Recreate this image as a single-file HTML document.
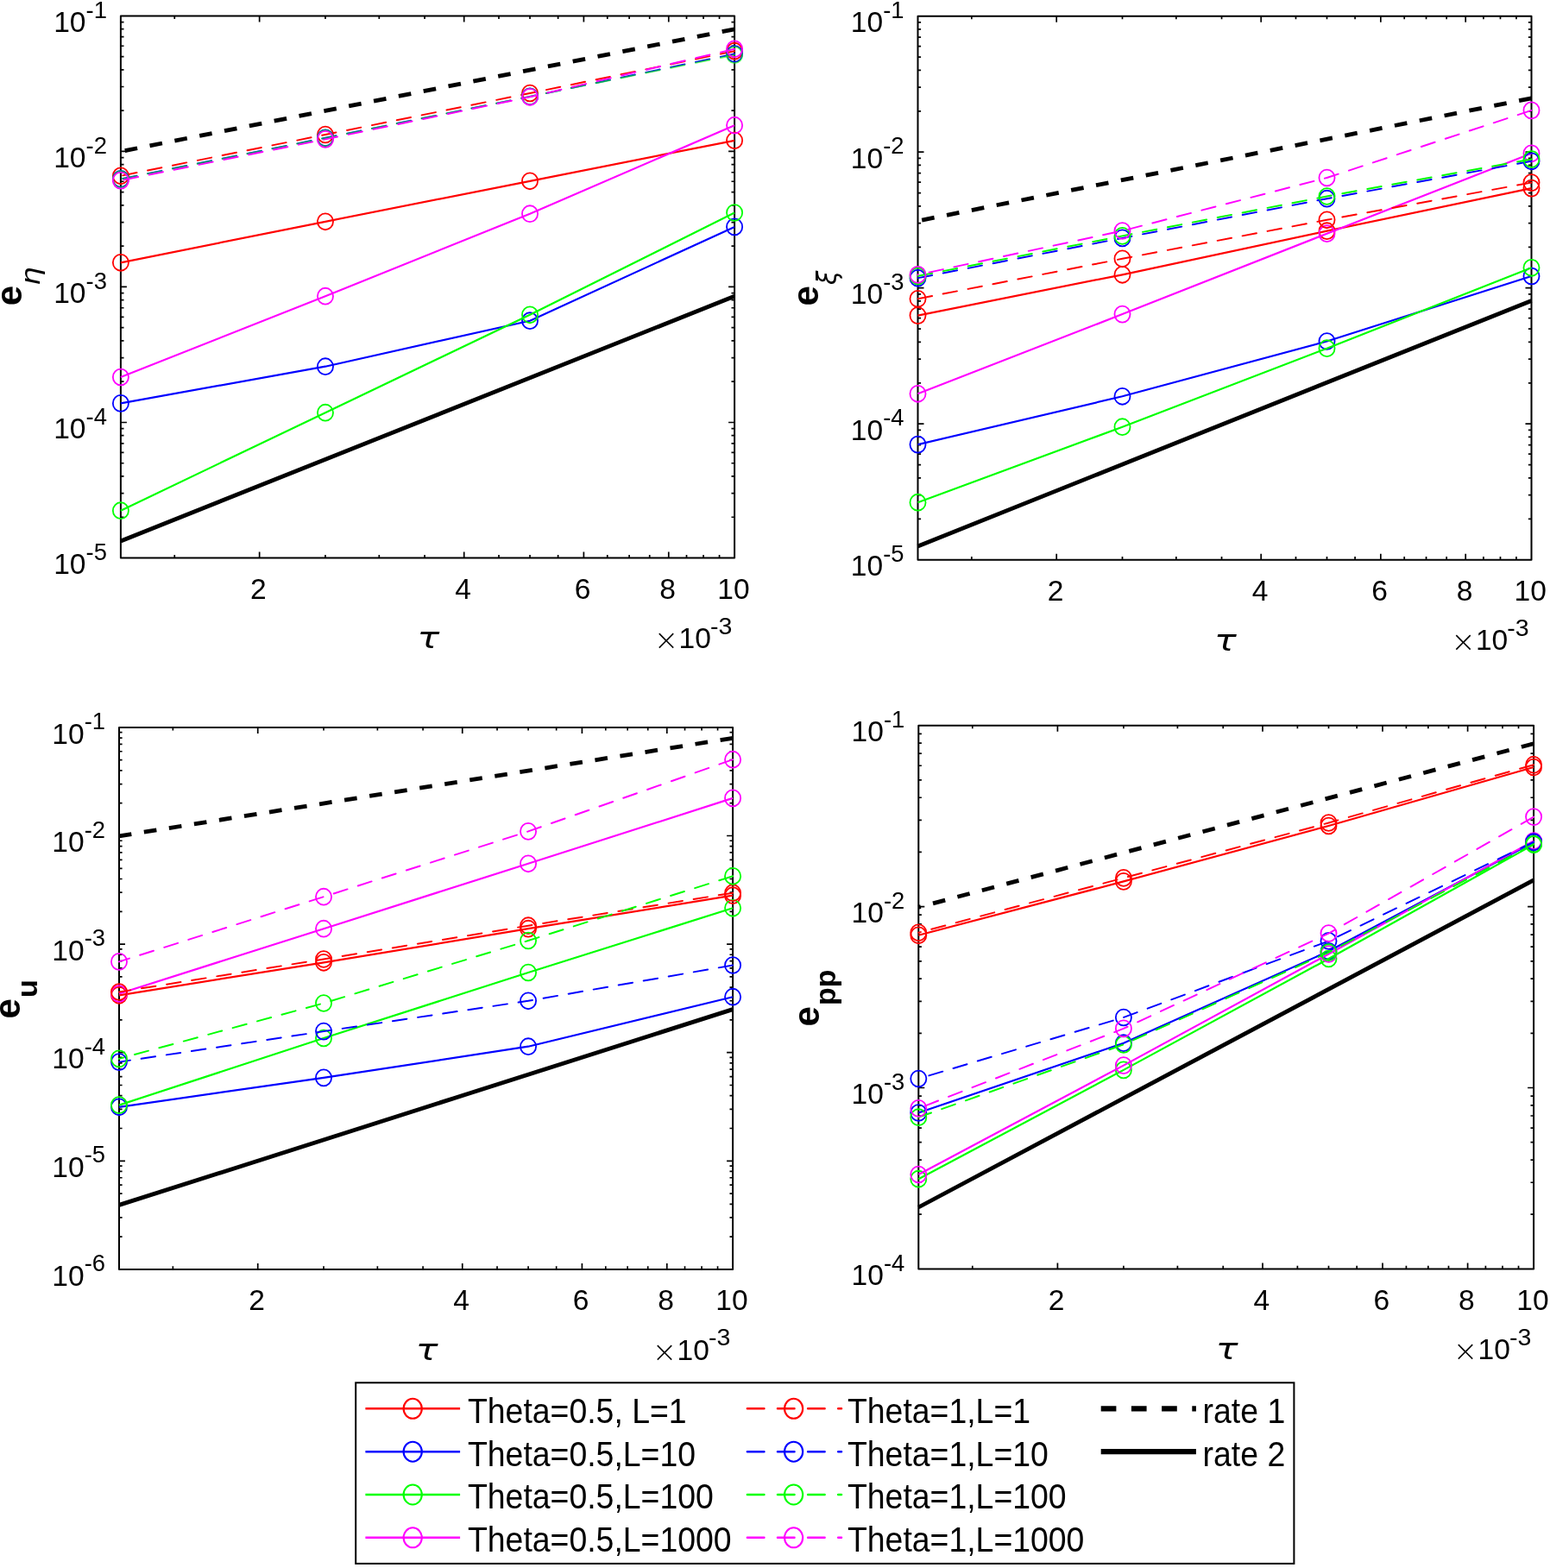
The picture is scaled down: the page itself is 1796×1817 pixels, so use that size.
<!DOCTYPE html>
<html><head><meta charset="utf-8"><title>Convergence plots</title>
<style>
html,body{margin:0;padding:0;background:#fff;}
body{width:1796px;height:1817px;overflow:hidden;}
svg{display:block;}
text{font-family:"Liberation Sans", Arial, Helvetica, sans-serif;fill:#000;}
</style></head>
<body>
<svg width="1796" height="1817" viewBox="0 0 1796 1817">
<rect width="1796" height="1817" fill="#fff"/>
<path d="M300.65 646.5v-7M300.65 18.4v7M537.71 646.5v-7M537.71 18.4v7M676.39 646.5v-7M676.39 18.4v7M774.78 646.5v-7M774.78 18.4v7M202.26 646.5v-3.6M202.26 18.4v3.6M376.97 646.5v-3.6M376.97 18.4v3.6M439.32 646.5v-3.6M439.32 18.4v3.6M492.05 646.5v-3.6M492.05 18.4v3.6M578 646.5v-3.6M578 18.4v3.6M614.03 646.5v-3.6M614.03 18.4v3.6M646.63 646.5v-3.6M646.63 18.4v3.6M703.77 646.5v-3.6M703.77 18.4v3.6M729.11 646.5v-3.6M729.11 18.4v3.6M752.71 646.5v-3.6M752.71 18.4v3.6M795.52 646.5v-3.6M795.52 18.4v3.6M815.07 646.5v-3.6M815.07 18.4v3.6M833.56 646.5v-3.6M833.56 18.4v3.6M139.9 599.23h3.6M851.1 599.23h-3.6M139.9 571.58h3.6M851.1 571.58h-3.6M139.9 551.96h3.6M851.1 551.96h-3.6M139.9 536.74h3.6M851.1 536.74h-3.6M139.9 524.31h3.6M851.1 524.31h-3.6M139.9 513.8h3.6M851.1 513.8h-3.6M139.9 504.69h3.6M851.1 504.69h-3.6M139.9 496.66h3.6M851.1 496.66h-3.6M139.9 489.48h7M851.1 489.48h-7M139.9 442.21h3.6M851.1 442.21h-3.6M139.9 414.56h3.6M851.1 414.56h-3.6M139.9 394.94h3.6M851.1 394.94h-3.6M139.9 379.72h3.6M851.1 379.72h-3.6M139.9 367.29h3.6M851.1 367.29h-3.6M139.9 356.77h3.6M851.1 356.77h-3.6M139.9 347.67h3.6M851.1 347.67h-3.6M139.9 339.64h3.6M851.1 339.64h-3.6M139.9 332.45h7M851.1 332.45h-7M139.9 285.18h3.6M851.1 285.18h-3.6M139.9 257.53h3.6M851.1 257.53h-3.6M139.9 237.91h3.6M851.1 237.91h-3.6M139.9 222.69h3.6M851.1 222.69h-3.6M139.9 210.26h3.6M851.1 210.26h-3.6M139.9 199.75h3.6M851.1 199.75h-3.6M139.9 190.64h3.6M851.1 190.64h-3.6M139.9 182.61h3.6M851.1 182.61h-3.6M139.9 175.43h7M851.1 175.43h-7M139.9 128.16h3.6M851.1 128.16h-3.6M139.9 100.51h3.6M851.1 100.51h-3.6M139.9 80.89h3.6M851.1 80.89h-3.6M139.9 65.67h3.6M851.1 65.67h-3.6M139.9 53.24h3.6M851.1 53.24h-3.6M139.9 42.72h3.6M851.1 42.72h-3.6M139.9 33.62h3.6M851.1 33.62h-3.6M139.9 25.59h3.6M851.1 25.59h-3.6" stroke="#000" stroke-width="1.7" fill="none"/>
<rect x="139.9" y="18.4" width="711.2" height="628.1" fill="none" stroke="#000" stroke-width="2" stroke-linejoin="round"/>
<text x="123.9" y="665.2" text-anchor="end" font-size="33.6">10<tspan font-size="27.4" dy="-16.6">-5</tspan></text>
<text x="123.9" y="508.18" text-anchor="end" font-size="33.6">10<tspan font-size="27.4" dy="-16.6">-4</tspan></text>
<text x="123.9" y="351.15" text-anchor="end" font-size="33.6">10<tspan font-size="27.4" dy="-16.6">-3</tspan></text>
<text x="123.9" y="194.12" text-anchor="end" font-size="33.6">10<tspan font-size="27.4" dy="-16.6">-2</tspan></text>
<text x="123.9" y="37.1" text-anchor="end" font-size="33.6">10<tspan font-size="27.4" dy="-16.6">-1</tspan></text>
<text x="299.45" y="693.6" text-anchor="middle" font-size="33.6">2</text>
<text x="536.51" y="693.6" text-anchor="middle" font-size="33.6">4</text>
<text x="675.19" y="693.6" text-anchor="middle" font-size="33.6">6</text>
<text x="773.58" y="693.6" text-anchor="middle" font-size="33.6">8</text>
<text x="849.9" y="693.6" text-anchor="middle" font-size="33.6">10</text>
<text transform="translate(483.6 751.4) scale(1.24 1)" font-size="34.5" font-style="italic" style="font-family:'DejaVu Sans', sans-serif">τ</text>
<text x="757.85" y="753.25" font-size="34" font-weight="200" style="font-family:'DejaVu Sans', sans-serif">×</text>
<text x="786.5" y="751.1" font-size="33.6">10</text>
<text x="822.9" y="734.9" font-size="28.5">-3</text>
<polyline points="851.1,162.8 614.03,209.8 376.97,256.8 139.9,304.3" fill="none" stroke="#ff0000" stroke-width="2.2" stroke-linejoin="round"/>
<ellipse cx="139.9" cy="304.3" rx="9.05" ry="9.45" fill="none" stroke="#ff0000" stroke-width="1.8"/>
<ellipse cx="376.97" cy="256.8" rx="9.05" ry="9.45" fill="none" stroke="#ff0000" stroke-width="1.8"/>
<ellipse cx="614.03" cy="209.8" rx="9.05" ry="9.45" fill="none" stroke="#ff0000" stroke-width="1.8"/>
<ellipse cx="851.1" cy="162.8" rx="9.05" ry="9.45" fill="none" stroke="#ff0000" stroke-width="1.8"/>
<polyline points="851.1,262.9 614.03,371.7 376.97,424.7 139.9,467.4" fill="none" stroke="#0000ff" stroke-width="2.2" stroke-linejoin="round"/>
<ellipse cx="139.9" cy="467.4" rx="9.05" ry="9.45" fill="none" stroke="#0000ff" stroke-width="1.8"/>
<ellipse cx="376.97" cy="424.7" rx="9.05" ry="9.45" fill="none" stroke="#0000ff" stroke-width="1.8"/>
<ellipse cx="614.03" cy="371.7" rx="9.05" ry="9.45" fill="none" stroke="#0000ff" stroke-width="1.8"/>
<ellipse cx="851.1" cy="262.9" rx="9.05" ry="9.45" fill="none" stroke="#0000ff" stroke-width="1.8"/>
<polyline points="851.1,246.5 614.03,364.8 376.97,478.2 139.9,591.7" fill="none" stroke="#00ff00" stroke-width="2.2" stroke-linejoin="round"/>
<ellipse cx="139.9" cy="591.7" rx="9.05" ry="9.45" fill="none" stroke="#00ff00" stroke-width="1.8"/>
<ellipse cx="376.97" cy="478.2" rx="9.05" ry="9.45" fill="none" stroke="#00ff00" stroke-width="1.8"/>
<ellipse cx="614.03" cy="364.8" rx="9.05" ry="9.45" fill="none" stroke="#00ff00" stroke-width="1.8"/>
<ellipse cx="851.1" cy="246.5" rx="9.05" ry="9.45" fill="none" stroke="#00ff00" stroke-width="1.8"/>
<polyline points="851.1,145.2 614.03,247.7 376.97,343.2 139.9,437" fill="none" stroke="#ff00ff" stroke-width="2.2" stroke-linejoin="round"/>
<ellipse cx="139.9" cy="437" rx="9.05" ry="9.45" fill="none" stroke="#ff00ff" stroke-width="1.8"/>
<ellipse cx="376.97" cy="343.2" rx="9.05" ry="9.45" fill="none" stroke="#ff00ff" stroke-width="1.8"/>
<ellipse cx="614.03" cy="247.7" rx="9.05" ry="9.45" fill="none" stroke="#ff00ff" stroke-width="1.8"/>
<ellipse cx="851.1" cy="145.2" rx="9.05" ry="9.45" fill="none" stroke="#ff00ff" stroke-width="1.8"/>
<polyline points="851.1,59.2 614.03,108 376.97,156 139.9,203.8" fill="none" stroke="#ff0000" stroke-width="1.95" stroke-linejoin="round" stroke-dasharray="16.6 12.85" stroke-linecap="round"/>
<ellipse cx="139.9" cy="203.8" rx="9.05" ry="9.45" fill="none" stroke="#ff0000" stroke-width="1.8"/>
<ellipse cx="376.97" cy="156" rx="9.05" ry="9.45" fill="none" stroke="#ff0000" stroke-width="1.8"/>
<ellipse cx="614.03" cy="108" rx="9.05" ry="9.45" fill="none" stroke="#ff0000" stroke-width="1.8"/>
<ellipse cx="851.1" cy="59.2" rx="9.05" ry="9.45" fill="none" stroke="#ff0000" stroke-width="1.8"/>
<polyline points="851.1,62.5 614.03,111.9 376.97,159.8 139.9,207.4" fill="none" stroke="#0000ff" stroke-width="1.95" stroke-linejoin="round" stroke-dasharray="16.6 12.85" stroke-linecap="round"/>
<ellipse cx="139.9" cy="207.4" rx="9.05" ry="9.45" fill="none" stroke="#0000ff" stroke-width="1.8"/>
<ellipse cx="376.97" cy="159.8" rx="9.05" ry="9.45" fill="none" stroke="#0000ff" stroke-width="1.8"/>
<ellipse cx="614.03" cy="111.9" rx="9.05" ry="9.45" fill="none" stroke="#0000ff" stroke-width="1.8"/>
<ellipse cx="851.1" cy="62.5" rx="9.05" ry="9.45" fill="none" stroke="#0000ff" stroke-width="1.8"/>
<polyline points="851.1,63.7 614.03,111.8 376.97,160 139.9,207.6" fill="none" stroke="#00ff00" stroke-width="1.95" stroke-linejoin="round" stroke-dasharray="16.6 12.85" stroke-linecap="round" stroke-opacity="0.6"/>
<ellipse cx="139.9" cy="207.6" rx="9.05" ry="9.45" fill="none" stroke="#00ff00" stroke-width="1.8" stroke-opacity="0.6"/>
<ellipse cx="376.97" cy="160" rx="9.05" ry="9.45" fill="none" stroke="#00ff00" stroke-width="1.8" stroke-opacity="0.6"/>
<ellipse cx="614.03" cy="111.8" rx="9.05" ry="9.45" fill="none" stroke="#00ff00" stroke-width="1.8" stroke-opacity="0.6"/>
<ellipse cx="851.1" cy="63.7" rx="9.05" ry="9.45" fill="none" stroke="#00ff00" stroke-width="1.8" stroke-opacity="0.6"/>
<polyline points="851.1,56.8 614.03,112.3 376.97,161.4 139.9,209.1" fill="none" stroke="#ff00ff" stroke-width="1.95" stroke-linejoin="round" stroke-dasharray="16.6 12.85" stroke-linecap="round"/>
<ellipse cx="139.9" cy="209.1" rx="9.05" ry="9.45" fill="none" stroke="#ff00ff" stroke-width="1.8"/>
<ellipse cx="376.97" cy="161.4" rx="9.05" ry="9.45" fill="none" stroke="#ff00ff" stroke-width="1.8"/>
<ellipse cx="614.03" cy="112.3" rx="9.05" ry="9.45" fill="none" stroke="#ff00ff" stroke-width="1.8"/>
<ellipse cx="851.1" cy="56.8" rx="9.05" ry="9.45" fill="none" stroke="#ff00ff" stroke-width="1.8"/>
<line x1="851.1" y1="33.8" x2="139.9" y2="175.6" stroke="#000" stroke-width="4.8" stroke-dasharray="14.7 14.7"/>
<line x1="139.9" y1="626.9" x2="851.1" y2="343.3" stroke="#000" stroke-width="4.8"/>
<text transform="translate(24.5 354.3) rotate(-90)" font-size="42" font-weight="bold">e</text>
<text transform="translate(45.8 331.1) rotate(-90) scale(1.13 1)" font-size="30.2" font-style="italic" style="font-family:'DejaVu Sans', sans-serif">η</text>
<path d="M1224.2 648.7v-7M1224.2 18.7v7M1461.2 648.7v-7M1461.2 18.7v7M1599.84 648.7v-7M1599.84 18.7v7M1698.2 648.7v-7M1698.2 18.7v7M1125.84 648.7v-3.6M1125.84 18.7v3.6M1300.5 648.7v-3.6M1300.5 18.7v3.6M1362.84 648.7v-3.6M1362.84 18.7v3.6M1415.55 648.7v-3.6M1415.55 18.7v3.6M1501.48 648.7v-3.6M1501.48 18.7v3.6M1537.5 648.7v-3.6M1537.5 18.7v3.6M1570.09 648.7v-3.6M1570.09 18.7v3.6M1627.21 648.7v-3.6M1627.21 18.7v3.6M1652.55 648.7v-3.6M1652.55 18.7v3.6M1676.14 648.7v-3.6M1676.14 18.7v3.6M1718.93 648.7v-3.6M1718.93 18.7v3.6M1738.48 648.7v-3.6M1738.48 18.7v3.6M1756.96 648.7v-3.6M1756.96 18.7v3.6M1063.5 601.29h3.6M1774.5 601.29h-3.6M1063.5 573.55h3.6M1774.5 573.55h-3.6M1063.5 553.88h3.6M1774.5 553.88h-3.6M1063.5 538.61h3.6M1774.5 538.61h-3.6M1063.5 526.14h3.6M1774.5 526.14h-3.6M1063.5 515.6h3.6M1774.5 515.6h-3.6M1063.5 506.46h3.6M1774.5 506.46h-3.6M1063.5 498.41h3.6M1774.5 498.41h-3.6M1063.5 491.2h7M1774.5 491.2h-7M1063.5 443.79h3.6M1774.5 443.79h-3.6M1063.5 416.05h3.6M1774.5 416.05h-3.6M1063.5 396.38h3.6M1774.5 396.38h-3.6M1063.5 381.11h3.6M1774.5 381.11h-3.6M1063.5 368.64h3.6M1774.5 368.64h-3.6M1063.5 358.1h3.6M1774.5 358.1h-3.6M1063.5 348.96h3.6M1774.5 348.96h-3.6M1063.5 340.91h3.6M1774.5 340.91h-3.6M1063.5 333.7h7M1774.5 333.7h-7M1063.5 286.29h3.6M1774.5 286.29h-3.6M1063.5 258.55h3.6M1774.5 258.55h-3.6M1063.5 238.88h3.6M1774.5 238.88h-3.6M1063.5 223.61h3.6M1774.5 223.61h-3.6M1063.5 211.14h3.6M1774.5 211.14h-3.6M1063.5 200.6h3.6M1774.5 200.6h-3.6M1063.5 191.46h3.6M1774.5 191.46h-3.6M1063.5 183.41h3.6M1774.5 183.41h-3.6M1063.5 176.2h7M1774.5 176.2h-7M1063.5 128.79h3.6M1774.5 128.79h-3.6M1063.5 101.05h3.6M1774.5 101.05h-3.6M1063.5 81.38h3.6M1774.5 81.38h-3.6M1063.5 66.11h3.6M1774.5 66.11h-3.6M1063.5 53.64h3.6M1774.5 53.64h-3.6M1063.5 43.1h3.6M1774.5 43.1h-3.6M1063.5 33.96h3.6M1774.5 33.96h-3.6M1063.5 25.91h3.6M1774.5 25.91h-3.6" stroke="#000" stroke-width="1.7" fill="none"/>
<rect x="1063.5" y="18.7" width="711" height="630" fill="none" stroke="#000" stroke-width="2" stroke-linejoin="round"/>
<text x="1047.5" y="667.4" text-anchor="end" font-size="33.6">10<tspan font-size="27.4" dy="-16.6">-5</tspan></text>
<text x="1047.5" y="509.9" text-anchor="end" font-size="33.6">10<tspan font-size="27.4" dy="-16.6">-4</tspan></text>
<text x="1047.5" y="352.4" text-anchor="end" font-size="33.6">10<tspan font-size="27.4" dy="-16.6">-3</tspan></text>
<text x="1047.5" y="194.9" text-anchor="end" font-size="33.6">10<tspan font-size="27.4" dy="-16.6">-2</tspan></text>
<text x="1047.5" y="37.4" text-anchor="end" font-size="33.6">10<tspan font-size="27.4" dy="-16.6">-1</tspan></text>
<text x="1223" y="695.8" text-anchor="middle" font-size="33.6">2</text>
<text x="1460" y="695.8" text-anchor="middle" font-size="33.6">4</text>
<text x="1598.64" y="695.8" text-anchor="middle" font-size="33.6">6</text>
<text x="1697" y="695.8" text-anchor="middle" font-size="33.6">8</text>
<text x="1773.3" y="695.8" text-anchor="middle" font-size="33.6">10</text>
<text transform="translate(1407.1 753.6) scale(1.24 1)" font-size="34.5" font-style="italic" style="font-family:'DejaVu Sans', sans-serif">τ</text>
<text x="1681.25" y="755.45" font-size="34" font-weight="200" style="font-family:'DejaVu Sans', sans-serif">×</text>
<text x="1709.9" y="753.3" font-size="33.6">10</text>
<text x="1746.3" y="737.1" font-size="28.5">-3</text>
<polyline points="1774.5,218.1 1537.5,267.7 1300.5,318.3 1063.5,365.6" fill="none" stroke="#ff0000" stroke-width="2.2" stroke-linejoin="round"/>
<ellipse cx="1063.5" cy="365.6" rx="9.05" ry="9.45" fill="none" stroke="#ff0000" stroke-width="1.8"/>
<ellipse cx="1300.5" cy="318.3" rx="9.05" ry="9.45" fill="none" stroke="#ff0000" stroke-width="1.8"/>
<ellipse cx="1537.5" cy="267.7" rx="9.05" ry="9.45" fill="none" stroke="#ff0000" stroke-width="1.8"/>
<ellipse cx="1774.5" cy="218.1" rx="9.05" ry="9.45" fill="none" stroke="#ff0000" stroke-width="1.8"/>
<polyline points="1774.5,320 1537.5,395.5 1300.5,459.3 1063.5,515.1" fill="none" stroke="#0000ff" stroke-width="2.2" stroke-linejoin="round"/>
<ellipse cx="1063.5" cy="515.1" rx="9.05" ry="9.45" fill="none" stroke="#0000ff" stroke-width="1.8"/>
<ellipse cx="1300.5" cy="459.3" rx="9.05" ry="9.45" fill="none" stroke="#0000ff" stroke-width="1.8"/>
<ellipse cx="1537.5" cy="395.5" rx="9.05" ry="9.45" fill="none" stroke="#0000ff" stroke-width="1.8"/>
<ellipse cx="1774.5" cy="320" rx="9.05" ry="9.45" fill="none" stroke="#0000ff" stroke-width="1.8"/>
<polyline points="1774.5,310.3 1537.5,403.7 1300.5,494.7 1063.5,582.2" fill="none" stroke="#00ff00" stroke-width="2.2" stroke-linejoin="round"/>
<ellipse cx="1063.5" cy="582.2" rx="9.05" ry="9.45" fill="none" stroke="#00ff00" stroke-width="1.8"/>
<ellipse cx="1300.5" cy="494.7" rx="9.05" ry="9.45" fill="none" stroke="#00ff00" stroke-width="1.8"/>
<ellipse cx="1537.5" cy="403.7" rx="9.05" ry="9.45" fill="none" stroke="#00ff00" stroke-width="1.8"/>
<ellipse cx="1774.5" cy="310.3" rx="9.05" ry="9.45" fill="none" stroke="#00ff00" stroke-width="1.8"/>
<polyline points="1774.5,177.8 1537.5,270.7 1300.5,364.1 1063.5,456.3" fill="none" stroke="#ff00ff" stroke-width="2.2" stroke-linejoin="round"/>
<ellipse cx="1063.5" cy="456.3" rx="9.05" ry="9.45" fill="none" stroke="#ff00ff" stroke-width="1.8"/>
<ellipse cx="1300.5" cy="364.1" rx="9.05" ry="9.45" fill="none" stroke="#ff00ff" stroke-width="1.8"/>
<ellipse cx="1537.5" cy="270.7" rx="9.05" ry="9.45" fill="none" stroke="#ff00ff" stroke-width="1.8"/>
<ellipse cx="1774.5" cy="177.8" rx="9.05" ry="9.45" fill="none" stroke="#ff00ff" stroke-width="1.8"/>
<polyline points="1774.5,211.6 1537.5,254.8 1300.5,299.8 1063.5,346.3" fill="none" stroke="#ff0000" stroke-width="1.95" stroke-linejoin="round" stroke-dasharray="16.6 12.85" stroke-linecap="round"/>
<ellipse cx="1063.5" cy="346.3" rx="9.05" ry="9.45" fill="none" stroke="#ff0000" stroke-width="1.8"/>
<ellipse cx="1300.5" cy="299.8" rx="9.05" ry="9.45" fill="none" stroke="#ff0000" stroke-width="1.8"/>
<ellipse cx="1537.5" cy="254.8" rx="9.05" ry="9.45" fill="none" stroke="#ff0000" stroke-width="1.8"/>
<ellipse cx="1774.5" cy="211.6" rx="9.05" ry="9.45" fill="none" stroke="#ff0000" stroke-width="1.8"/>
<polyline points="1774.5,186.8 1537.5,230.2 1300.5,275.9 1063.5,322.2" fill="none" stroke="#0000ff" stroke-width="1.95" stroke-linejoin="round" stroke-dasharray="16.6 12.85" stroke-linecap="round"/>
<ellipse cx="1063.5" cy="322.2" rx="9.05" ry="9.45" fill="none" stroke="#0000ff" stroke-width="1.8"/>
<ellipse cx="1300.5" cy="275.9" rx="9.05" ry="9.45" fill="none" stroke="#0000ff" stroke-width="1.8"/>
<ellipse cx="1537.5" cy="230.2" rx="9.05" ry="9.45" fill="none" stroke="#0000ff" stroke-width="1.8"/>
<ellipse cx="1774.5" cy="186.8" rx="9.05" ry="9.45" fill="none" stroke="#0000ff" stroke-width="1.8"/>
<polyline points="1774.5,184.5 1537.5,227.5 1300.5,273.4 1063.5,319.9" fill="none" stroke="#00ff00" stroke-width="1.95" stroke-linejoin="round" stroke-dasharray="16.6 12.85" stroke-linecap="round"/>
<ellipse cx="1063.5" cy="319.9" rx="9.05" ry="9.45" fill="none" stroke="#00ff00" stroke-width="1.8"/>
<ellipse cx="1300.5" cy="273.4" rx="9.05" ry="9.45" fill="none" stroke="#00ff00" stroke-width="1.8"/>
<ellipse cx="1537.5" cy="227.5" rx="9.05" ry="9.45" fill="none" stroke="#00ff00" stroke-width="1.8"/>
<ellipse cx="1774.5" cy="184.5" rx="9.05" ry="9.45" fill="none" stroke="#00ff00" stroke-width="1.8"/>
<polyline points="1774.5,127.9 1537.5,206 1300.5,267.5 1063.5,318.4" fill="none" stroke="#ff00ff" stroke-width="1.95" stroke-linejoin="round" stroke-dasharray="16.6 12.85" stroke-linecap="round"/>
<ellipse cx="1063.5" cy="318.4" rx="9.05" ry="9.45" fill="none" stroke="#ff00ff" stroke-width="1.8"/>
<ellipse cx="1300.5" cy="267.5" rx="9.05" ry="9.45" fill="none" stroke="#ff00ff" stroke-width="1.8"/>
<ellipse cx="1537.5" cy="206" rx="9.05" ry="9.45" fill="none" stroke="#ff00ff" stroke-width="1.8"/>
<ellipse cx="1774.5" cy="127.9" rx="9.05" ry="9.45" fill="none" stroke="#ff00ff" stroke-width="1.8"/>
<line x1="1774.5" y1="113.8" x2="1063.5" y2="256" stroke="#000" stroke-width="4.8" stroke-dasharray="14.7 14.7"/>
<line x1="1063.5" y1="632.95" x2="1774.5" y2="348.45" stroke="#000" stroke-width="4.8"/>
<text transform="translate(948.3 354.5) rotate(-90)" font-size="42" font-weight="bold">e</text>
<text transform="translate(968.7 330) rotate(-90) scale(0.91 1)" font-size="32" font-style="italic" style="font-family:'DejaVu Sans', sans-serif">ξ</text>
<path d="M298.73 1470.9v-7M298.73 842.9v7M535.76 1470.9v-7M535.76 842.9v7M674.41 1470.9v-7M674.41 842.9v7M772.79 1470.9v-7M772.79 842.9v7M200.35 1470.9v-3.6M200.35 842.9v3.6M375.03 1470.9v-3.6M375.03 842.9v3.6M437.38 1470.9v-3.6M437.38 842.9v3.6M490.1 1470.9v-3.6M490.1 842.9v3.6M576.04 1470.9v-3.6M576.04 842.9v3.6M612.07 1470.9v-3.6M612.07 842.9v3.6M644.66 1470.9v-3.6M644.66 842.9v3.6M701.79 1470.9v-3.6M701.79 842.9v3.6M727.13 1470.9v-3.6M727.13 842.9v3.6M750.72 1470.9v-3.6M750.72 842.9v3.6M793.52 1470.9v-3.6M793.52 842.9v3.6M813.07 1470.9v-3.6M813.07 842.9v3.6M831.56 1470.9v-3.6M831.56 842.9v3.6M138 1433.09h3.6M849.1 1433.09h-3.6M138 1410.97h3.6M849.1 1410.97h-3.6M138 1395.28h3.6M849.1 1395.28h-3.6M138 1383.11h3.6M849.1 1383.11h-3.6M138 1373.16h3.6M849.1 1373.16h-3.6M138 1364.76h3.6M849.1 1364.76h-3.6M138 1357.47h3.6M849.1 1357.47h-3.6M138 1351.05h3.6M849.1 1351.05h-3.6M138 1345.3h7M849.1 1345.3h-7M138 1307.49h3.6M849.1 1307.49h-3.6M138 1285.37h3.6M849.1 1285.37h-3.6M138 1269.68h3.6M849.1 1269.68h-3.6M138 1257.51h3.6M849.1 1257.51h-3.6M138 1247.56h3.6M849.1 1247.56h-3.6M138 1239.16h3.6M849.1 1239.16h-3.6M138 1231.87h3.6M849.1 1231.87h-3.6M138 1225.45h3.6M849.1 1225.45h-3.6M138 1219.7h7M849.1 1219.7h-7M138 1181.89h3.6M849.1 1181.89h-3.6M138 1159.77h3.6M849.1 1159.77h-3.6M138 1144.08h3.6M849.1 1144.08h-3.6M138 1131.91h3.6M849.1 1131.91h-3.6M138 1121.96h3.6M849.1 1121.96h-3.6M138 1113.56h3.6M849.1 1113.56h-3.6M138 1106.27h3.6M849.1 1106.27h-3.6M138 1099.85h3.6M849.1 1099.85h-3.6M138 1094.1h7M849.1 1094.1h-7M138 1056.29h3.6M849.1 1056.29h-3.6M138 1034.17h3.6M849.1 1034.17h-3.6M138 1018.48h3.6M849.1 1018.48h-3.6M138 1006.31h3.6M849.1 1006.31h-3.6M138 996.36h3.6M849.1 996.36h-3.6M138 987.96h3.6M849.1 987.96h-3.6M138 980.67h3.6M849.1 980.67h-3.6M138 974.25h3.6M849.1 974.25h-3.6M138 968.5h7M849.1 968.5h-7M138 930.69h3.6M849.1 930.69h-3.6M138 908.57h3.6M849.1 908.57h-3.6M138 892.88h3.6M849.1 892.88h-3.6M138 880.71h3.6M849.1 880.71h-3.6M138 870.76h3.6M849.1 870.76h-3.6M138 862.36h3.6M849.1 862.36h-3.6M138 855.07h3.6M849.1 855.07h-3.6M138 848.65h3.6M849.1 848.65h-3.6" stroke="#000" stroke-width="1.7" fill="none"/>
<rect x="138" y="842.9" width="711.1" height="628" fill="none" stroke="#000" stroke-width="2" stroke-linejoin="round"/>
<text x="122" y="1489.6" text-anchor="end" font-size="33.6">10<tspan font-size="27.4" dy="-16.6">-6</tspan></text>
<text x="122" y="1364" text-anchor="end" font-size="33.6">10<tspan font-size="27.4" dy="-16.6">-5</tspan></text>
<text x="122" y="1238.4" text-anchor="end" font-size="33.6">10<tspan font-size="27.4" dy="-16.6">-4</tspan></text>
<text x="122" y="1112.8" text-anchor="end" font-size="33.6">10<tspan font-size="27.4" dy="-16.6">-3</tspan></text>
<text x="122" y="987.2" text-anchor="end" font-size="33.6">10<tspan font-size="27.4" dy="-16.6">-2</tspan></text>
<text x="122" y="861.6" text-anchor="end" font-size="33.6">10<tspan font-size="27.4" dy="-16.6">-1</tspan></text>
<text x="297.53" y="1518" text-anchor="middle" font-size="33.6">2</text>
<text x="534.56" y="1518" text-anchor="middle" font-size="33.6">4</text>
<text x="673.21" y="1518" text-anchor="middle" font-size="33.6">6</text>
<text x="771.59" y="1518" text-anchor="middle" font-size="33.6">8</text>
<text x="847.9" y="1518" text-anchor="middle" font-size="33.6">10</text>
<text transform="translate(481.65 1575.8) scale(1.24 1)" font-size="34.5" font-style="italic" style="font-family:'DejaVu Sans', sans-serif">τ</text>
<text x="755.85" y="1577.65" font-size="34" font-weight="200" style="font-family:'DejaVu Sans', sans-serif">×</text>
<text x="784.5" y="1575.5" font-size="33.6">10</text>
<text x="820.9" y="1559.3" font-size="28.5">-3</text>
<polyline points="849.1,1037.7 612.07,1076.2 375.03,1115.3 138,1153.3" fill="none" stroke="#ff0000" stroke-width="2.2" stroke-linejoin="round"/>
<ellipse cx="138" cy="1153.3" rx="9.05" ry="9.45" fill="none" stroke="#ff0000" stroke-width="1.8"/>
<ellipse cx="375.03" cy="1115.3" rx="9.05" ry="9.45" fill="none" stroke="#ff0000" stroke-width="1.8"/>
<ellipse cx="612.07" cy="1076.2" rx="9.05" ry="9.45" fill="none" stroke="#ff0000" stroke-width="1.8"/>
<ellipse cx="849.1" cy="1037.7" rx="9.05" ry="9.45" fill="none" stroke="#ff0000" stroke-width="1.8"/>
<polyline points="849.1,1155.2 612.07,1212.7 375.03,1248.9 138,1282.8" fill="none" stroke="#0000ff" stroke-width="2.2" stroke-linejoin="round"/>
<ellipse cx="138" cy="1282.8" rx="9.05" ry="9.45" fill="none" stroke="#0000ff" stroke-width="1.8"/>
<ellipse cx="375.03" cy="1248.9" rx="9.05" ry="9.45" fill="none" stroke="#0000ff" stroke-width="1.8"/>
<ellipse cx="612.07" cy="1212.7" rx="9.05" ry="9.45" fill="none" stroke="#0000ff" stroke-width="1.8"/>
<ellipse cx="849.1" cy="1155.2" rx="9.05" ry="9.45" fill="none" stroke="#0000ff" stroke-width="1.8"/>
<polyline points="849.1,1052.3 612.07,1127 375.03,1203 138,1280.6" fill="none" stroke="#00ff00" stroke-width="2.2" stroke-linejoin="round"/>
<ellipse cx="138" cy="1280.6" rx="9.05" ry="9.45" fill="none" stroke="#00ff00" stroke-width="1.8"/>
<ellipse cx="375.03" cy="1203" rx="9.05" ry="9.45" fill="none" stroke="#00ff00" stroke-width="1.8"/>
<ellipse cx="612.07" cy="1127" rx="9.05" ry="9.45" fill="none" stroke="#00ff00" stroke-width="1.8"/>
<ellipse cx="849.1" cy="1052.3" rx="9.05" ry="9.45" fill="none" stroke="#00ff00" stroke-width="1.8"/>
<polyline points="849.1,924.9 612.07,1000.8 375.03,1076.2 138,1151.5" fill="none" stroke="#ff00ff" stroke-width="2.2" stroke-linejoin="round"/>
<ellipse cx="138" cy="1151.5" rx="9.05" ry="9.45" fill="none" stroke="#ff00ff" stroke-width="1.8"/>
<ellipse cx="375.03" cy="1076.2" rx="9.05" ry="9.45" fill="none" stroke="#ff00ff" stroke-width="1.8"/>
<ellipse cx="612.07" cy="1000.8" rx="9.05" ry="9.45" fill="none" stroke="#ff00ff" stroke-width="1.8"/>
<ellipse cx="849.1" cy="924.9" rx="9.05" ry="9.45" fill="none" stroke="#ff00ff" stroke-width="1.8"/>
<polyline points="849.1,1034.7 612.07,1072.7 375.03,1111.5 138,1149.5" fill="none" stroke="#ff0000" stroke-width="1.95" stroke-linejoin="round" stroke-dasharray="16.6 12.85" stroke-linecap="round"/>
<ellipse cx="138" cy="1149.5" rx="9.05" ry="9.45" fill="none" stroke="#ff0000" stroke-width="1.8"/>
<ellipse cx="375.03" cy="1111.5" rx="9.05" ry="9.45" fill="none" stroke="#ff0000" stroke-width="1.8"/>
<ellipse cx="612.07" cy="1072.7" rx="9.05" ry="9.45" fill="none" stroke="#ff0000" stroke-width="1.8"/>
<ellipse cx="849.1" cy="1034.7" rx="9.05" ry="9.45" fill="none" stroke="#ff0000" stroke-width="1.8"/>
<polyline points="849.1,1118.5 612.07,1159.8 375.03,1195.1 138,1230.6" fill="none" stroke="#0000ff" stroke-width="1.95" stroke-linejoin="round" stroke-dasharray="16.6 12.85" stroke-linecap="round"/>
<ellipse cx="138" cy="1230.6" rx="9.05" ry="9.45" fill="none" stroke="#0000ff" stroke-width="1.8"/>
<ellipse cx="375.03" cy="1195.1" rx="9.05" ry="9.45" fill="none" stroke="#0000ff" stroke-width="1.8"/>
<ellipse cx="612.07" cy="1159.8" rx="9.05" ry="9.45" fill="none" stroke="#0000ff" stroke-width="1.8"/>
<ellipse cx="849.1" cy="1118.5" rx="9.05" ry="9.45" fill="none" stroke="#0000ff" stroke-width="1.8"/>
<polyline points="849.1,1015.3 612.07,1090 375.03,1162.5 138,1226.9" fill="none" stroke="#00ff00" stroke-width="1.95" stroke-linejoin="round" stroke-dasharray="16.6 12.85" stroke-linecap="round"/>
<ellipse cx="138" cy="1226.9" rx="9.05" ry="9.45" fill="none" stroke="#00ff00" stroke-width="1.8"/>
<ellipse cx="375.03" cy="1162.5" rx="9.05" ry="9.45" fill="none" stroke="#00ff00" stroke-width="1.8"/>
<ellipse cx="612.07" cy="1090" rx="9.05" ry="9.45" fill="none" stroke="#00ff00" stroke-width="1.8"/>
<ellipse cx="849.1" cy="1015.3" rx="9.05" ry="9.45" fill="none" stroke="#00ff00" stroke-width="1.8"/>
<polyline points="849.1,880.2 612.07,963.4 375.03,1039.2 138,1114.4" fill="none" stroke="#ff00ff" stroke-width="1.95" stroke-linejoin="round" stroke-dasharray="16.6 12.85" stroke-linecap="round"/>
<ellipse cx="138" cy="1114.4" rx="9.05" ry="9.45" fill="none" stroke="#ff00ff" stroke-width="1.8"/>
<ellipse cx="375.03" cy="1039.2" rx="9.05" ry="9.45" fill="none" stroke="#ff00ff" stroke-width="1.8"/>
<ellipse cx="612.07" cy="963.4" rx="9.05" ry="9.45" fill="none" stroke="#ff00ff" stroke-width="1.8"/>
<ellipse cx="849.1" cy="880.2" rx="9.05" ry="9.45" fill="none" stroke="#ff00ff" stroke-width="1.8"/>
<line x1="849.1" y1="855.3" x2="138" y2="968.8" stroke="#000" stroke-width="4.8" stroke-dasharray="14.7 14.7"/>
<line x1="138" y1="1396.4" x2="849.1" y2="1169.6" stroke="#000" stroke-width="4.8"/>
<text transform="translate(22.6 1180.5) rotate(-90)" font-size="42" font-weight="bold">e</text>
<text transform="translate(42.5 1156) rotate(-90)" font-size="34" font-weight="bold">u</text>
<path d="M1225.41 1470.4v-7M1225.41 840.7v7M1463.01 1470.4v-7M1463.01 840.7v7M1602 1470.4v-7M1602 840.7v7M1700.61 1470.4v-7M1700.61 840.7v7M1126.8 1470.4v-3.6M1126.8 840.7v3.6M1301.9 1470.4v-3.6M1301.9 840.7v3.6M1364.4 1470.4v-3.6M1364.4 840.7v3.6M1417.24 1470.4v-3.6M1417.24 840.7v3.6M1503.38 1470.4v-3.6M1503.38 840.7v3.6M1539.5 1470.4v-3.6M1539.5 840.7v3.6M1572.17 1470.4v-3.6M1572.17 840.7v3.6M1629.43 1470.4v-3.6M1629.43 840.7v3.6M1654.84 1470.4v-3.6M1654.84 840.7v3.6M1678.49 1470.4v-3.6M1678.49 840.7v3.6M1721.39 1470.4v-3.6M1721.39 840.7v3.6M1740.98 1470.4v-3.6M1740.98 840.7v3.6M1759.52 1470.4v-3.6M1759.52 840.7v3.6M1064.3 1407.21h3.6M1777.1 1407.21h-3.6M1064.3 1370.25h3.6M1777.1 1370.25h-3.6M1064.3 1344.03h3.6M1777.1 1344.03h-3.6M1064.3 1323.69h3.6M1777.1 1323.69h-3.6M1064.3 1307.07h3.6M1777.1 1307.07h-3.6M1064.3 1293.01h3.6M1777.1 1293.01h-3.6M1064.3 1280.84h3.6M1777.1 1280.84h-3.6M1064.3 1270.1h3.6M1777.1 1270.1h-3.6M1064.3 1260.5h7M1777.1 1260.5h-7M1064.3 1197.31h3.6M1777.1 1197.31h-3.6M1064.3 1160.35h3.6M1777.1 1160.35h-3.6M1064.3 1134.13h3.6M1777.1 1134.13h-3.6M1064.3 1113.79h3.6M1777.1 1113.79h-3.6M1064.3 1097.17h3.6M1777.1 1097.17h-3.6M1064.3 1083.11h3.6M1777.1 1083.11h-3.6M1064.3 1070.94h3.6M1777.1 1070.94h-3.6M1064.3 1060.2h3.6M1777.1 1060.2h-3.6M1064.3 1050.6h7M1777.1 1050.6h-7M1064.3 987.41h3.6M1777.1 987.41h-3.6M1064.3 950.45h3.6M1777.1 950.45h-3.6M1064.3 924.23h3.6M1777.1 924.23h-3.6M1064.3 903.89h3.6M1777.1 903.89h-3.6M1064.3 887.27h3.6M1777.1 887.27h-3.6M1064.3 873.21h3.6M1777.1 873.21h-3.6M1064.3 861.04h3.6M1777.1 861.04h-3.6M1064.3 850.3h3.6M1777.1 850.3h-3.6" stroke="#000" stroke-width="1.7" fill="none"/>
<rect x="1064.3" y="840.7" width="712.8" height="629.7" fill="none" stroke="#000" stroke-width="2" stroke-linejoin="round"/>
<text x="1048.3" y="1489.1" text-anchor="end" font-size="33.6">10<tspan font-size="27.4" dy="-16.6">-4</tspan></text>
<text x="1048.3" y="1279.2" text-anchor="end" font-size="33.6">10<tspan font-size="27.4" dy="-16.6">-3</tspan></text>
<text x="1048.3" y="1069.3" text-anchor="end" font-size="33.6">10<tspan font-size="27.4" dy="-16.6">-2</tspan></text>
<text x="1048.3" y="859.4" text-anchor="end" font-size="33.6">10<tspan font-size="27.4" dy="-16.6">-1</tspan></text>
<text x="1224.21" y="1517.5" text-anchor="middle" font-size="33.6">2</text>
<text x="1461.81" y="1517.5" text-anchor="middle" font-size="33.6">4</text>
<text x="1600.8" y="1517.5" text-anchor="middle" font-size="33.6">6</text>
<text x="1699.41" y="1517.5" text-anchor="middle" font-size="33.6">8</text>
<text x="1775.9" y="1517.5" text-anchor="middle" font-size="33.6">10</text>
<text transform="translate(1408.8 1575.3) scale(1.24 1)" font-size="34.5" font-style="italic" style="font-family:'DejaVu Sans', sans-serif">τ</text>
<text x="1683.85" y="1577.15" font-size="34" font-weight="200" style="font-family:'DejaVu Sans', sans-serif">×</text>
<text x="1712.5" y="1575" font-size="33.6">10</text>
<text x="1748.9" y="1558.8" font-size="28.5">-3</text>
<polyline points="1777.1,889 1539.5,957 1301.9,1021.4 1064.3,1083.8" fill="none" stroke="#ff0000" stroke-width="2.2" stroke-linejoin="round"/>
<ellipse cx="1064.3" cy="1083.8" rx="9.05" ry="9.45" fill="none" stroke="#ff0000" stroke-width="1.8"/>
<ellipse cx="1301.9" cy="1021.4" rx="9.05" ry="9.45" fill="none" stroke="#ff0000" stroke-width="1.8"/>
<ellipse cx="1539.5" cy="957" rx="9.05" ry="9.45" fill="none" stroke="#ff0000" stroke-width="1.8"/>
<ellipse cx="1777.1" cy="889" rx="9.05" ry="9.45" fill="none" stroke="#ff0000" stroke-width="1.8"/>
<polyline points="1777.1,976 1539.5,1102.3 1301.9,1208.7 1064.3,1289.5" fill="none" stroke="#0000ff" stroke-width="2.2" stroke-linejoin="round"/>
<ellipse cx="1064.3" cy="1289.5" rx="9.05" ry="9.45" fill="none" stroke="#0000ff" stroke-width="1.8"/>
<ellipse cx="1301.9" cy="1208.7" rx="9.05" ry="9.45" fill="none" stroke="#0000ff" stroke-width="1.8"/>
<ellipse cx="1539.5" cy="1102.3" rx="9.05" ry="9.45" fill="none" stroke="#0000ff" stroke-width="1.8"/>
<ellipse cx="1777.1" cy="976" rx="9.05" ry="9.45" fill="none" stroke="#0000ff" stroke-width="1.8"/>
<polyline points="1777.1,978.6 1539.5,1111 1301.9,1239.9 1064.3,1366.2" fill="none" stroke="#00ff00" stroke-width="2.2" stroke-linejoin="round"/>
<ellipse cx="1064.3" cy="1366.2" rx="9.05" ry="9.45" fill="none" stroke="#00ff00" stroke-width="1.8"/>
<ellipse cx="1301.9" cy="1239.9" rx="9.05" ry="9.45" fill="none" stroke="#00ff00" stroke-width="1.8"/>
<ellipse cx="1539.5" cy="1111" rx="9.05" ry="9.45" fill="none" stroke="#00ff00" stroke-width="1.8"/>
<ellipse cx="1777.1" cy="978.6" rx="9.05" ry="9.45" fill="none" stroke="#00ff00" stroke-width="1.8"/>
<polyline points="1777.1,974.5 1539.5,1105.5 1301.9,1234.6 1064.3,1361" fill="none" stroke="#ff00ff" stroke-width="2.2" stroke-linejoin="round"/>
<ellipse cx="1064.3" cy="1361" rx="9.05" ry="9.45" fill="none" stroke="#ff00ff" stroke-width="1.8"/>
<ellipse cx="1301.9" cy="1234.6" rx="9.05" ry="9.45" fill="none" stroke="#ff00ff" stroke-width="1.8"/>
<ellipse cx="1539.5" cy="1105.5" rx="9.05" ry="9.45" fill="none" stroke="#ff00ff" stroke-width="1.8"/>
<ellipse cx="1777.1" cy="974.5" rx="9.05" ry="9.45" fill="none" stroke="#ff00ff" stroke-width="1.8"/>
<polyline points="1777.1,886.2 1539.5,953.5 1301.9,1017.4 1064.3,1080.8" fill="none" stroke="#ff0000" stroke-width="1.95" stroke-linejoin="round" stroke-dasharray="16.6 12.85" stroke-linecap="round"/>
<ellipse cx="1064.3" cy="1080.8" rx="9.05" ry="9.45" fill="none" stroke="#ff0000" stroke-width="1.8"/>
<ellipse cx="1301.9" cy="1017.4" rx="9.05" ry="9.45" fill="none" stroke="#ff0000" stroke-width="1.8"/>
<ellipse cx="1539.5" cy="953.5" rx="9.05" ry="9.45" fill="none" stroke="#ff0000" stroke-width="1.8"/>
<ellipse cx="1777.1" cy="886.2" rx="9.05" ry="9.45" fill="none" stroke="#ff0000" stroke-width="1.8"/>
<polyline points="1777.1,975.6 1539.5,1090.4 1301.9,1179 1064.3,1250" fill="none" stroke="#0000ff" stroke-width="1.95" stroke-linejoin="round" stroke-dasharray="16.6 12.85" stroke-linecap="round"/>
<ellipse cx="1064.3" cy="1250" rx="9.05" ry="9.45" fill="none" stroke="#0000ff" stroke-width="1.8"/>
<ellipse cx="1301.9" cy="1179" rx="9.05" ry="9.45" fill="none" stroke="#0000ff" stroke-width="1.8"/>
<ellipse cx="1539.5" cy="1090.4" rx="9.05" ry="9.45" fill="none" stroke="#0000ff" stroke-width="1.8"/>
<ellipse cx="1777.1" cy="975.6" rx="9.05" ry="9.45" fill="none" stroke="#0000ff" stroke-width="1.8"/>
<polyline points="1777.1,978 1539.5,1103.7 1301.9,1210.4 1064.3,1294.7" fill="none" stroke="#00ff00" stroke-width="1.95" stroke-linejoin="round" stroke-dasharray="16.6 12.85" stroke-linecap="round"/>
<ellipse cx="1064.3" cy="1294.7" rx="9.05" ry="9.45" fill="none" stroke="#00ff00" stroke-width="1.8"/>
<ellipse cx="1301.9" cy="1210.4" rx="9.05" ry="9.45" fill="none" stroke="#00ff00" stroke-width="1.8"/>
<ellipse cx="1539.5" cy="1103.7" rx="9.05" ry="9.45" fill="none" stroke="#00ff00" stroke-width="1.8"/>
<ellipse cx="1777.1" cy="978" rx="9.05" ry="9.45" fill="none" stroke="#00ff00" stroke-width="1.8"/>
<polyline points="1777.1,946.6 1539.5,1081.6 1301.9,1191.9 1064.3,1284.4" fill="none" stroke="#ff00ff" stroke-width="1.95" stroke-linejoin="round" stroke-dasharray="16.6 12.85" stroke-linecap="round"/>
<ellipse cx="1064.3" cy="1284.4" rx="9.05" ry="9.45" fill="none" stroke="#ff00ff" stroke-width="1.8"/>
<ellipse cx="1301.9" cy="1191.9" rx="9.05" ry="9.45" fill="none" stroke="#ff00ff" stroke-width="1.8"/>
<ellipse cx="1539.5" cy="1081.6" rx="9.05" ry="9.45" fill="none" stroke="#ff00ff" stroke-width="1.8"/>
<ellipse cx="1777.1" cy="946.6" rx="9.05" ry="9.45" fill="none" stroke="#ff00ff" stroke-width="1.8"/>
<line x1="1777.1" y1="861.7" x2="1064.3" y2="1051.3" stroke="#000" stroke-width="4.8" stroke-dasharray="14.7 14.7"/>
<line x1="1064.3" y1="1399" x2="1777.1" y2="1019.9" stroke="#000" stroke-width="4.8"/>
<text transform="translate(949 1189.5) rotate(-90)" font-size="42" font-weight="bold">e</text>
<text transform="translate(968.3 1165) rotate(-90)" font-size="34" font-weight="bold">pp</text>
<rect x="412.2" y="1602.3" width="1087.2" height="209.6" fill="#fff" stroke="#000" stroke-width="2"/>
<line x1="423.4" y1="1632.3" x2="533.1" y2="1632.3" stroke="#ff0000" stroke-width="2.5"/>
<ellipse cx="478.2" cy="1632.3" rx="10.6" ry="11.5" fill="none" stroke="#ff0000" stroke-width="2.1"/>
<text x="542.0" y="1648.7" font-size="37.4" transform="translate(0 -115.41) scale(1 1.07)">Theta=0.5, L=1</text>
<line x1="865.9" y1="1632.3" x2="975" y2="1632.3" stroke="#ff0000" stroke-width="2.5" stroke-linecap="round" stroke-dasharray="19.5 15.6"/>
<ellipse cx="919.6" cy="1632.3" rx="10.6" ry="11.5" fill="none" stroke="#ff0000" stroke-width="2.1"/>
<text x="982.0" y="1648.7" font-size="37.4" transform="translate(0 -115.41) scale(1 1.07)">Theta=1,L=1</text>
<line x1="423.4" y1="1682.2" x2="533.1" y2="1682.2" stroke="#0000ff" stroke-width="2.5"/>
<ellipse cx="478.2" cy="1682.2" rx="10.6" ry="11.5" fill="none" stroke="#0000ff" stroke-width="2.1"/>
<text x="542.0" y="1698.6" font-size="37.4" transform="translate(0 -118.9) scale(1 1.07)">Theta=0.5,L=10</text>
<line x1="865.9" y1="1682.2" x2="975" y2="1682.2" stroke="#0000ff" stroke-width="2.5" stroke-linecap="round" stroke-dasharray="19.5 15.6"/>
<ellipse cx="919.6" cy="1682.2" rx="10.6" ry="11.5" fill="none" stroke="#0000ff" stroke-width="2.1"/>
<text x="982.0" y="1698.6" font-size="37.4" transform="translate(0 -118.9) scale(1 1.07)">Theta=1,L=10</text>
<line x1="423.4" y1="1732" x2="533.1" y2="1732" stroke="#00ff00" stroke-width="2.5"/>
<ellipse cx="478.2" cy="1732" rx="10.6" ry="11.5" fill="none" stroke="#00ff00" stroke-width="2.1"/>
<text x="542.0" y="1748.4" font-size="37.4" transform="translate(0 -122.39) scale(1 1.07)">Theta=0.5,L=100</text>
<line x1="865.9" y1="1732" x2="975" y2="1732" stroke="#00ff00" stroke-width="2.5" stroke-linecap="round" stroke-dasharray="19.5 15.6"/>
<ellipse cx="919.6" cy="1732" rx="10.6" ry="11.5" fill="none" stroke="#00ff00" stroke-width="2.1"/>
<text x="982.0" y="1748.4" font-size="37.4" transform="translate(0 -122.39) scale(1 1.07)">Theta=1,L=100</text>
<line x1="423.4" y1="1781.8" x2="533.1" y2="1781.8" stroke="#ff00ff" stroke-width="2.5"/>
<ellipse cx="478.2" cy="1781.8" rx="10.6" ry="11.5" fill="none" stroke="#ff00ff" stroke-width="2.1"/>
<text x="542.0" y="1798.2" font-size="37.4" transform="translate(0 -125.87) scale(1 1.07)">Theta=0.5,L=1000</text>
<line x1="865.9" y1="1781.8" x2="975" y2="1781.8" stroke="#ff00ff" stroke-width="2.5" stroke-linecap="round" stroke-dasharray="19.5 15.6"/>
<ellipse cx="919.6" cy="1781.8" rx="10.6" ry="11.5" fill="none" stroke="#ff00ff" stroke-width="2.1"/>
<text x="982.0" y="1798.2" font-size="37.4" transform="translate(0 -125.87) scale(1 1.07)">Theta=1,L=1000</text>
<line x1="1275.7" y1="1632.3" x2="1385.9" y2="1632.3" stroke="#000" stroke-width="6.2" stroke-dasharray="17.7 17.5"/>
<text x="1393.6" y="1648.7" font-size="37.4" transform="translate(0 -115.41) scale(1 1.07)">rate 1</text>
<line x1="1275.7" y1="1682.2" x2="1385.9" y2="1682.2" stroke="#000" stroke-width="6.2"/>
<text x="1393.6" y="1698.6" font-size="37.4" transform="translate(0 -118.9) scale(1 1.07)">rate 2</text>
</svg>
</body></html>
